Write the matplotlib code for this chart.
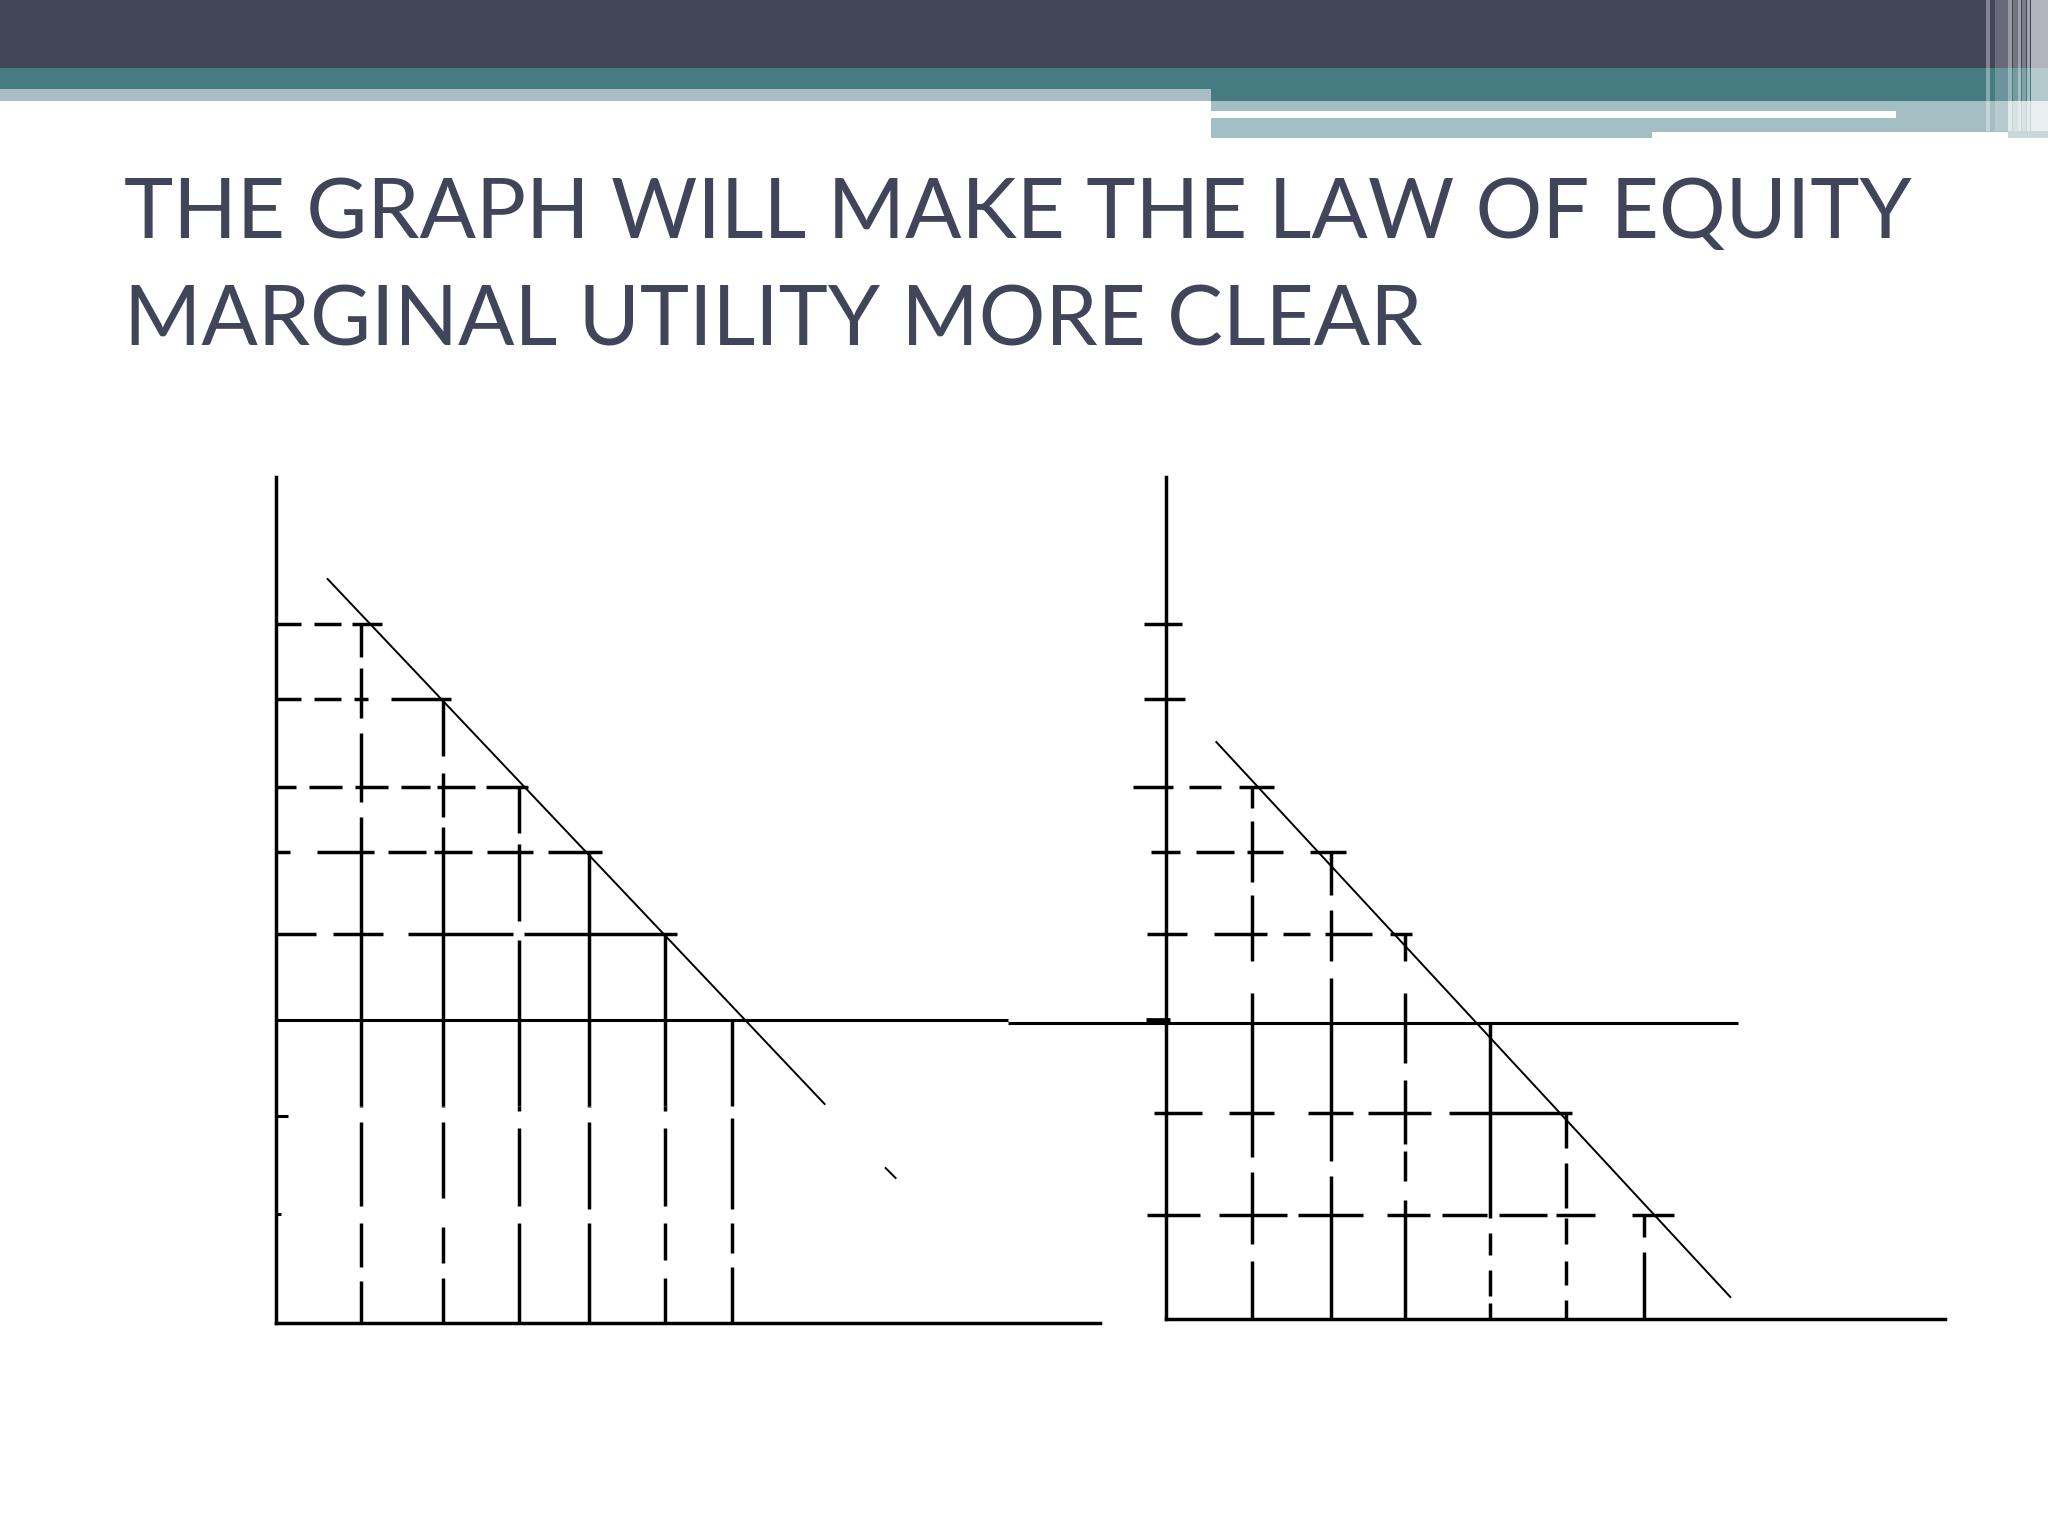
import matplotlib
matplotlib.use("Agg")
import matplotlib.pyplot as plt
from matplotlib.patches import Rectangle

plt.rcParams['lines.scale_dashes'] = False

# slide title
title_lines = ["THE GRAPH WILL MAKE THE LAW OF EQUITY",
               "MARGINAL UTILITY MORE CLEAR"]

# left diagram: units (quantity) and marginal utility levels, last level = MU of money
left_q = [0.85, 1.67, 2.43, 3.13, 3.89, 4.56]
left_mu = [6.99, 6.24, 5.36, 4.71, 3.89, 3.03]
left_curve_x = [0.52, 5.49]
left_curve_y = [7.44, 2.19]
left_tail_x = [6.10, 6.20]
left_tail_y = [1.55, 1.45]
left_ticks = [2.07, 1.09]

# right diagram
right_q = [0.86, 1.65, 2.39, 3.24, 4.00, 4.78]
right_mu = [5.32, 4.67, 3.85, 2.96, 2.06, 1.04]
right_curve_x = [0.50, 5.64]
right_curve_y = [5.77, 0.22]
right_ticks = [6.95, 6.20]
money_level = 3  # index of the money line in right_mu

W, H = 2048, 1536
fig = plt.figure(figsize=(20.48, 15.36), dpi=100)
fig.patch.set_facecolor('white')

# ---- header bands ----
deco = fig.add_axes([0, 0, 1, 1])
deco.set_xlim(0, W)
deco.set_ylim(H, 0)
deco.axis('off')
deco.add_patch(Rectangle((0, 0), W, 68, color='#424658', lw=0))
deco.add_patch(Rectangle((0, 68), W, 33, color='#477b82', lw=0))
deco.add_patch(Rectangle((0, 89), 1211, 12, color='#a9bec6', lw=0))
deco.add_patch(Rectangle((1211, 100.5), 797, 31, color='#a4bfc3', lw=0))
deco.add_patch(Rectangle((1211, 130), 441, 8, color='#a4bfc3', lw=0))
deco.add_patch(Rectangle((1211, 111), 685, 6.5, color='white', lw=0))
deco.add_patch(Rectangle((2008, 100.5), 40, 37.5, color='#c9d7da', lw=0))
for sx, sw, a in [(1986, 4, 0.35), (1995, 13, 0.2), (2008, 4, 0.45), (2013, 5, 0.25),
                  (2018, 3, 0.5), (2022, 4, 0.3), (2027, 3, 0.5), (2031, 17, 0.6)]:
    deco.add_patch(Rectangle((sx, 0), sw, 131, color='white', alpha=a, lw=0))

# ---- title ----
for i, line in enumerate(title_lines):
    fig.text(124 / W, 1 - (238 + 108 * i) / H, line, color='#41455a',
             fontsize=60, va='baseline', ha='left', family=['Lato', 'DejaVu Sans'])

LW = 2.5


def ls_of(pattern):
    if pattern is None:
        return '-'
    return (0, tuple(p * 0.72 for p in pattern) + (1000, 1))


def draw(ax, x, y, pattern=None, lw=LW):
    ax.plot(x, y, color='black', lw=lw, ls=ls_of(pattern), clip_on=False,
            solid_capstyle='butt', dash_capstyle='butt')


def make_axes(x0, y0, w, h):
    ax = fig.add_axes([x0 / W, (H - y0) / H, w / W, h / H])
    ax.set_xlim(0, w / 100)
    ax.set_ylim(0, h / 100)
    for s in ['top', 'right']:
        ax.spines[s].set_visible(False)
    for s in ['left', 'bottom']:
        ax.spines[s].set_linewidth(LW)
    ax.set_xticks([])
    ax.set_yticks([])
    ax.patch.set_alpha(0)
    return ax


# ---- left diagram ----
axl = make_axes(275.6, 1323, 824, 846)
left_h_over = [0.21, 0.08, 0.09, 0.13, 0.12]
left_h_dash = [(25, 13, 27, 11), (25, 13, 27, 13, 14, 23),
               (20, 13, 33, 13, 33, 13, 29, 7, 38, 11),
               (14, 27, 57, 14, 38, 8, 38, 15, 46, 15),
               (40, 17, 50, 25, 105, 11)]
left_v_upper = [(33, 11, 50, 15, 69, 15), (57, 17, 44, 10), (46, 11, 77, 19), None, None, None]
left_v_lower = [(42, 14, 44, 17, 84, 15), (45, 15, 36, 29, 76, 15), (100, 17, 78, 17),
                (100, 14, 87, 15), (45, 18, 37, 17, 78, 17), (56, 14, 30, 14, 91, 14)]
brk = 2.17
for i in range(5):
    draw(axl, [0, left_q[i] + left_h_over[i]], [left_mu[i]] * 2, left_h_dash[i])
draw(axl, [0, 7.32], [left_mu[5]] * 2, None, lw=2.2)
for i in range(6):
    draw(axl, [left_q[i]] * 2, [left_mu[i], brk], left_v_upper[i])
    draw(axl, [left_q[i]] * 2, [0, brk], left_v_lower[i])
for t, ln in zip(left_ticks, [0.12, 0.05]):
    draw(axl, [0, ln], [t, t], None, lw=2.2)
axl.plot(left_curve_x, left_curve_y, color='black', lw=1.4, clip_on=False)
axl.plot(left_tail_x, left_tail_y, color='black', lw=1.4, clip_on=False)

# ---- right diagram ----
axr = make_axes(1166.3, 1319, 778.5, 842.3)
right_h_start = [-0.33, -0.15, -0.19, None, -0.12, -0.19]
right_h_over = [0.22, 0.15, 0.07, None, 0.06, 0.30]
right_h_dash = [(40, 16, 32, 18), (29, 16, 38, 13, 36, 27),
                (40, 27, 53, 16, 27, 15, 47, 18), None,
                (48, 27, 45, 34, 45, 15, 63, 18),
                (53, 19, 68, 11, 65, 24, 43, 12, 45, 12, 48, 9, 39, 37)]
right_v = [(21, 13, 61, 13, 66, 32, 164, 15, 72, 17), (43, 15, 51, 17, 183, 15),
           (27, 32, 70, 17, 64, 7, 30, 19), (195, 15, 22, 15, 26, 7),
           (35, 15, 45, 10, 26, 17, 24, 15), (22, 15)]
for i in range(6):
    if i == money_level:
        continue
    draw(axr, [right_h_start[i], right_q[i] + right_h_over[i]], [right_mu[i]] * 2, right_h_dash[i])
draw(axr, [-1.58, 5.72], [right_mu[money_level]] * 2, None, lw=2.2)
draw(axr, [-0.2, 0.04], [right_mu[money_level] + 0.03] * 2, None, lw=3.4)
for i in range(6):
    draw(axr, [right_q[i]] * 2, [right_mu[i], 0], right_v[i])
for t, ln in zip(right_ticks, [(-0.22, 0.16), (-0.22, 0.19)]):
    draw(axr, list(ln), [t, t], None)
axr.plot(right_curve_x, right_curve_y, color='black', lw=1.4, clip_on=False)

fig.savefig('out.png', dpi=100, facecolor='white')
plt.close(fig)
